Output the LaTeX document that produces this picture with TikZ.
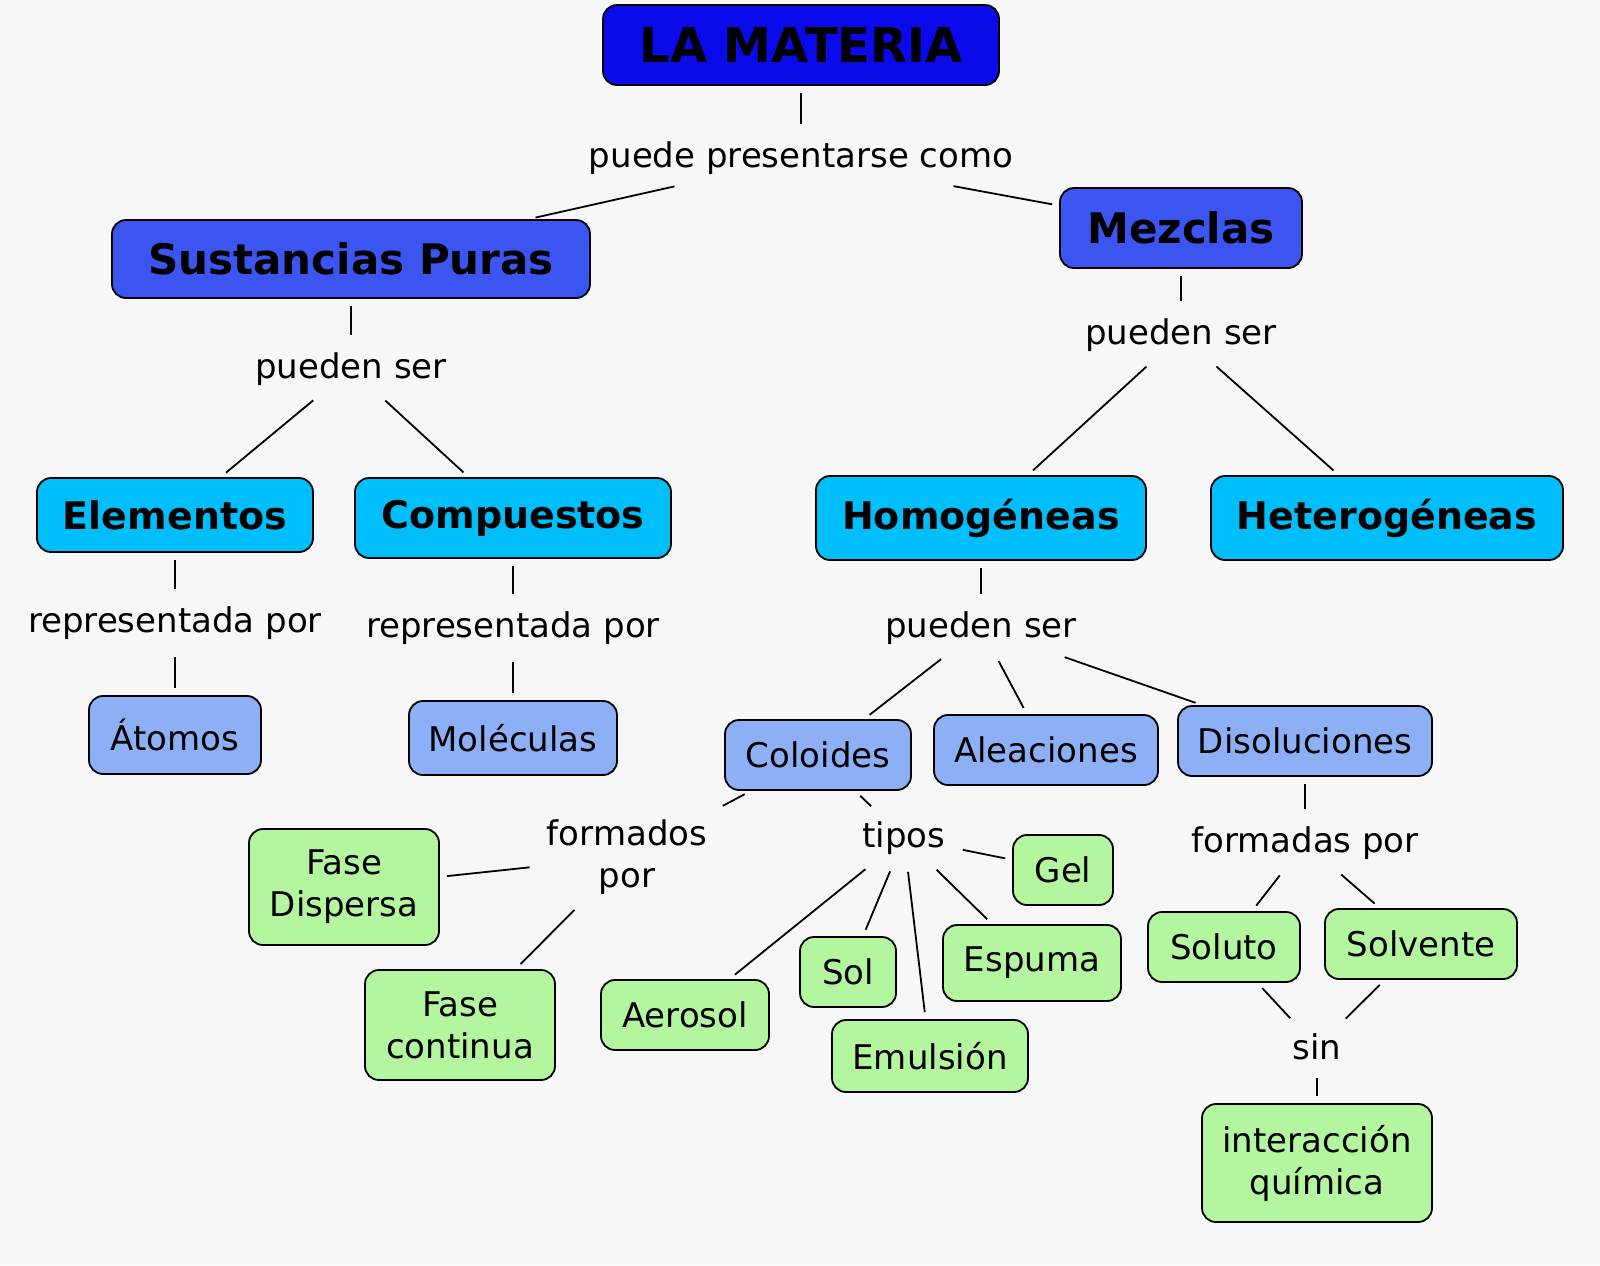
\documentclass[tikz,border=0pt]{standalone}
\usepackage{fontspec}
\setmainfont{DejaVu Sans}
\begin{document}
\begin{tikzpicture}[x=0.5pt,y=-0.5pt,
  box/.style={draw=black,line width=0.9pt,rounded corners=7pt,align=center,inner sep=0pt,text=black},
  lvl0/.style={box,fill={rgb,255:red,10;green,10;blue,235},font=\bfseries\fontsize{24}{28}\selectfont},
  lvl1/.style={box,fill={rgb,255:red,60;green,85;blue,240},font=\bfseries\fontsize{21}{25}\selectfont},
  lvl2/.style={box,fill={rgb,255:red,0;green,190;blue,250},font=\bfseries\fontsize{19}{23}\selectfont},
  lvl3/.style={box,fill={rgb,255:red,140;green,175;blue,245},font=\fontsize{17}{21}\selectfont},
  lvl4/.style={box,fill={rgb,255:red,180;green,245;blue,160},font=\fontsize{17}{21}\selectfont},
  lab/.style={font=\fontsize{17}{21}\selectfont,align=center,inner sep=5pt},
  conn/.style={line width=0.9pt}]
\fill[white!97!black] (0,0) rectangle (1600,1265);
\useasboundingbox (0,0) rectangle (1600,1265);
\node[lvl0,minimum width=198pt,minimum height=40pt] (mat) at (801,45) {LA MATERIA};
\node[lvl1,minimum width=239pt,minimum height=39pt] (sp) at (351,259) {Sustancias Puras};
\node[lvl1,minimum width=121pt,minimum height=40pt] (mez) at (1181,228) {Mezclas};
\node[lvl2,minimum width=138pt,minimum height=37pt] (ele) at (175,515) {Elementos};
\node[lvl2,minimum width=158pt,minimum height=40pt] (com) at (513,518) {Compuestos};
\node[lvl2,minimum width=165pt,minimum height=42pt] (hom) at (981,518) {Homogéneas};
\node[lvl2,minimum width=176pt,minimum height=42pt] (het) at (1387,518) {Heterogéneas};
\node[lvl3,minimum width=86pt,minimum height=39pt] (ato) at (175,735) {Átomos};
\node[lvl3,minimum width=104pt,minimum height=37pt] (mol) at (513,738) {Moléculas};
\node[lvl3,minimum width=93pt,minimum height=35pt] (col) at (818,755) {Coloides};
\node[lvl3,minimum width=112pt,minimum height=35pt] (ale) at (1046,750) {Aleaciones};
\node[lvl3,minimum width=127pt,minimum height=35pt] (dis) at (1305,741) {Disoluciones};
\node[lvl4,minimum width=95pt,minimum height=58pt] (fd) at (344,887) {Fase\\Dispersa};
\node[lvl4,minimum width=95pt,minimum height=55pt] (fc) at (460,1025) {Fase\\continua};
\node[lvl4,minimum width=84pt,minimum height=35pt] (aer) at (685,1015) {Aerosol};
\node[lvl4,minimum width=48pt,minimum height=35pt] (sol) at (848,972) {Sol};
\node[lvl4,minimum width=98pt,minimum height=36pt] (emu) at (930,1056) {Emulsión};
\node[lvl4,minimum width=89pt,minimum height=38pt] (esp) at (1032,963) {Espuma};
\node[lvl4,minimum width=50pt,minimum height=35pt] (gel) at (1063,870) {Gel};
\node[lvl4,minimum width=76pt,minimum height=35pt] (sto) at (1224,947) {Soluto};
\node[lvl4,minimum width=96pt,minimum height=35pt] (sve) at (1421,944) {Solvente};
\node[lvl4,minimum width=115pt,minimum height=59pt] (int) at (1317,1163) {interacción\\química};
\node[lab] (l1) at (801,158) {puede presentarse como};
\node[lab] (l2) at (351,369) {pueden ser};
\node[lab] (l3) at (1181,335) {pueden ser};
\node[lab] (l4) at (175,623) {representada por};
\node[lab] (l5) at (513,628) {representada por};
\node[lab] (l6) at (981,628) {pueden ser};
\node[lab] (l7) at (627,857) {formados\\por};
\node[lab] (l8) at (904,838) {tipos};
\node[lab] (l9) at (1305,843) {formadas por};
\node[lab] (l10) at (1317,1047) {sin};
\begin{scope}[conn,shorten <=3.5pt,shorten >=3.5pt]
\draw (mat) -- (l1); \draw (l1) -- (sp); \draw (l1) -- (mez);
\draw (sp) -- (l2); \draw (l2) -- (ele); \draw (l2) -- (com);
\draw (mez) -- (l3); \draw (l3) -- (hom); \draw (l3) -- (het);
\draw (ele) -- (l4); \draw (l4) -- (ato);
\draw (com) -- (l5); \draw (l5) -- (mol);
\draw (hom) -- (l6); \draw (l6) -- (col); \draw (l6) -- (ale); \draw (l6) -- (dis);
\draw (col) -- (l7); \draw (l7) -- (fd); \draw (l7) -- (fc);
\draw (col) -- (l8); \draw (l8) -- (gel); \draw (l8) -- (aer); \draw (l8) -- (sol);
\draw (l8) -- (emu); \draw (l8) -- (esp);
\draw (dis) -- (l9); \draw (l9) -- (sto); \draw (l9) -- (sve);
\draw (sto) -- (l10); \draw (sve) -- (l10); \draw (l10) -- (int);
\end{scope}
\end{tikzpicture}
\end{document}
